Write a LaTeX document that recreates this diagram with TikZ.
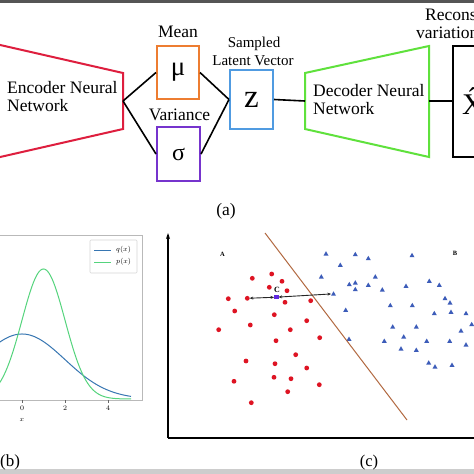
\documentclass[tikz,border=0pt]{standalone}
\usepackage{fontspec}
\setmainfont{Liberation Serif}
\usetikzlibrary{arrows.meta,calc}
\definecolor{encred}{RGB}{222,30,62}
\definecolor{meanorange}{RGB}{237,125,49}
\definecolor{varpurple}{RGB}{118,52,205}
\definecolor{zblue}{RGB}{80,155,225}
\definecolor{decgreen}{RGB}{95,225,60}
\definecolor{qblue}{RGB}{55,118,178}
\definecolor{pgreen}{RGB}{85,212,125}
\definecolor{framegray}{RGB}{185,185,185}
\definecolor{leggray}{RGB}{215,215,215}
\definecolor{dotred}{RGB}{222,20,35}
\definecolor{triblue}{RGB}{60,92,185}
\definecolor{sepbrown}{RGB}{178,105,65}
\definecolor{sqpurple}{RGB}{95,40,225}
\definecolor{topgray}{RGB}{85,85,85}
\definecolor{botgray}{RGB}{205,205,205}
\tikzset{
  bigtxt/.style={inner sep=0pt, font=\fontsize{17.5}{19}\selectfont},
  smalltxt/.style={inner sep=0pt, font=\fontsize{15}{16}\selectfont},
  varbox/.style={draw, line width=2pt, inner sep=0pt},
  conn/.style={line width=1.6pt, black},
  tinytxt/.style={inner sep=0pt, font=\fontsize{7}{7}\selectfont},
  markertxt/.style={inner sep=0pt, font=\bfseries\fontsize{6.5}{6.5}\selectfont},
  dbl/.style={{Stealth[length=3.5pt,width=3pt]}-{Stealth[length=3.5pt,width=3pt]}, line width=0.9pt, black!85}
}
\begin{document}
\begin{tikzpicture}[x=1pt,y=-1pt]
\useasboundingbox (0,0) rectangle (474,474);
\clip (0,0) rectangle (474,474);
\fill[white] (0,0) rectangle (474,474);
\fill[topgray] (0,0) rectangle (474,2.5);
\fill[botgray] (0,469) rectangle (474,474);

% ---------------- (a) ----------------
\draw[encred, line width=2pt, line join=miter]
  (-20,40.4) -- (123,73) -- (123,129) -- (-20,161.6);
\coordinate (enc) at (123,101);
\node[bigtxt, anchor=base west] (enct1) at (7,93) {Encoder Neural};
\node[bigtxt, anchor=base west] (enct2) at (7,111) {Network};

\node[varbox, draw=meanorange, minimum width=42pt, minimum height=53pt,
      font=\fontsize{27}{27}\selectfont] (mu) at (178,72.5) {μ};
\node[varbox, draw=varpurple, minimum width=43pt, minimum height=54pt,
      font=\fontsize{24}{24}\selectfont] (sig) at (178.5,154) {σ};
\node[varbox, draw=zblue, minimum width=43pt, minimum height=59pt,
      font=\fontsize{33}{33}\selectfont] (zb) at (251.5,99.5) {z};

\node[bigtxt, anchor=base] (meanl) at (178,37.3) {Mean};
\node[bigtxt, anchor=base] (varl) at (179.5,120.7) {Variance};
\node[smalltxt, anchor=base] (sampl) at (254,47.5) {Sampled};
\node[smalltxt, anchor=base] (latl) at (253,65.7) {Latent Vector};

\draw[decgreen, line width=2pt, line join=miter]
  (305,73) -- (429,46) -- (429,157) -- (305,129) -- cycle;
\coordinate (decL) at (305,101);
\coordinate (decR) at (429,101);
\node[bigtxt, anchor=base west] (dect1) at (313,96) {Decoder Neural};
\node[bigtxt, anchor=base west] (dect2) at (313,114) {Network};

\draw[black, line width=1.8pt] (490,46) -- (453,46) -- (453,157) -- (490,157);
\coordinate (xl) at (453,101);
\node[inner sep=0pt, anchor=west, font=\fontsize{30}{30}\selectfont] (xhat) at (462,101) {\^{X}};
\node[bigtxt, anchor=base west] (rec1) at (425,20) {Recons};
\node[bigtxt, anchor=base west] (rec2) at (416,38) {variation};

\draw[conn] (enc) -- (mu.west);
\draw[conn] (enc) -- (sig.west);
\draw[conn] (mu.east) -- (zb.west);
\draw[conn] (sig.east) -- (zb.west);
\draw[conn] (zb.east) -- (decL);
\draw[conn] (decR) -- (xl);

\node[bigtxt, anchor=base] (alab) at (226,215) {(a)};

% ---------------- (b) ----------------
\draw[framegray, line width=0.8pt] (-5,235) rectangle (142,400);
\foreach \t/\tx in {0/22,2/65,4/108}{
  \draw[black!60, line width=0.5pt] (\tx,400) -- (\tx,403);
  \node[tinytxt, anchor=base] (tick\t) at (\tx,410) {$\t$};
}
\node[tinytxt, anchor=base] (xlab) at (22,421) {$x$};
\draw[qblue, line width=1pt] plot[domain=-1.2:5.07, samples=120, smooth]
  ({22+21.5*\x}, {399-65*exp(-\x*\x/8)});
\draw[pgreen, line width=1pt] plot[domain=-1.2:5.07, samples=120, smooth]
  ({22+21.5*\x}, {399-130*exp(-(\x-1)*(\x-1)/2)});
\draw[leggray, line width=0.6pt, fill=white, fill opacity=0.8, rounded corners=1pt]
  (90,240) rectangle (137,273);
\draw[qblue, line width=1pt] (94,250) -- (111,250);
\draw[pgreen, line width=1pt] (94,262) -- (111,262);
\node[tinytxt, anchor=west] (ql) at (116,250) {$q(x)$};
\node[tinytxt, anchor=west] (pl) at (116,262) {$p(x)$};
\node[bigtxt, anchor=base, font=\fontsize{17}{17}\selectfont] (blab) at (10,466.5) {(b)};

% ---------------- (c) ----------------
\draw[black, line width=1.2pt, -{Stealth[length=6pt,width=4pt]}] (168,438) -- (168,233);
\draw[black, line width=1.2pt] (168,438) -- (480,438);

\foreach \x/\y in {271.7/274, 252.3/278.3, 282/281.3, 269.3/287.3, 287/290.7,
  228.3/298.7, 285/302.3, 310.7/300.7, 234.7/311, 274.3/314.7, 306.7/320.7,
  218.7/329.7, 250.3/325, 290.3/329.7, 276/340.7, 319.7/337.7, 295.7/354.7,
  246/361, 275/363.7, 306.7/368, 234/381.3, 274/377.3, 291/378.7, 319.3/384.7,
  287.7/391.7, 251.3/402.7}
  \fill[dotred] (\x,\y) circle (2.4);

\foreach \x/\y in {326/253.7, 355.3/254.3, 368.3/258.3, 412/255.3, 340.3/265,
  321.3/276.7, 375.3/276.7, 349.3/284.3, 355.3/282.7, 355.3/289.3, 368.3/285,
  382.3/289.7, 406/286, 429.3/281, 439.3/285, 445/298.3, 450/302.7,
  390.3/305.3, 412.3/305.3, 345.7/310, 434.3/313.3, 451/312, 466/313.3,
  471.7/324.3, 392.7/326.7, 416.3/326.7, 461/330.7, 349/339, 384.3/341,
  403.7/336.7, 426.7/341, 449.7/341, 466/344.7, 401/348.7, 416.3/350,
  428.7/362.7, 435/366.7, 452/365}
  \fill[triblue] (\x-2.5,\y+1.9) -- (\x+2.5,\y+1.9) -- (\x,\y-2.5) -- cycle;

\draw[sepbrown, line width=1pt] (265,233) -- (407,420);

\coordinate (c1) at (247.3,298.3);
\coordinate (sq) at (276.3,297.2);
\coordinate (t1) at (333.5,293.8);
\fill[dotred] (c1) circle (2.4);
\fill[sqpurple] ($(sq)+(-2.25,-2.25)$) rectangle ($(sq)+(2.25,2.25)$);
\fill[triblue] (331,295.7) -- (336,295.7) -- (333.5,291.3) -- cycle;
\draw[dbl, shorten <=2.4pt, shorten >=2.3pt] (c1) -- (sq);
\draw[dbl, shorten <=2.3pt, shorten >=2.5pt] (sq) -- (t1);

\node[markertxt] (alabc) at (222.5,254) {A};
\node[markertxt] (blabc) at (455,253) {B};
\node[markertxt, font=\bfseries\fontsize{8}{8}\selectfont] (clabc) at (277,290) {C};
\node[bigtxt, anchor=base, font=\fontsize{16.5}{16.5}\selectfont] (clab) at (369,466.5) {(c)};
\end{tikzpicture}
\end{document}
